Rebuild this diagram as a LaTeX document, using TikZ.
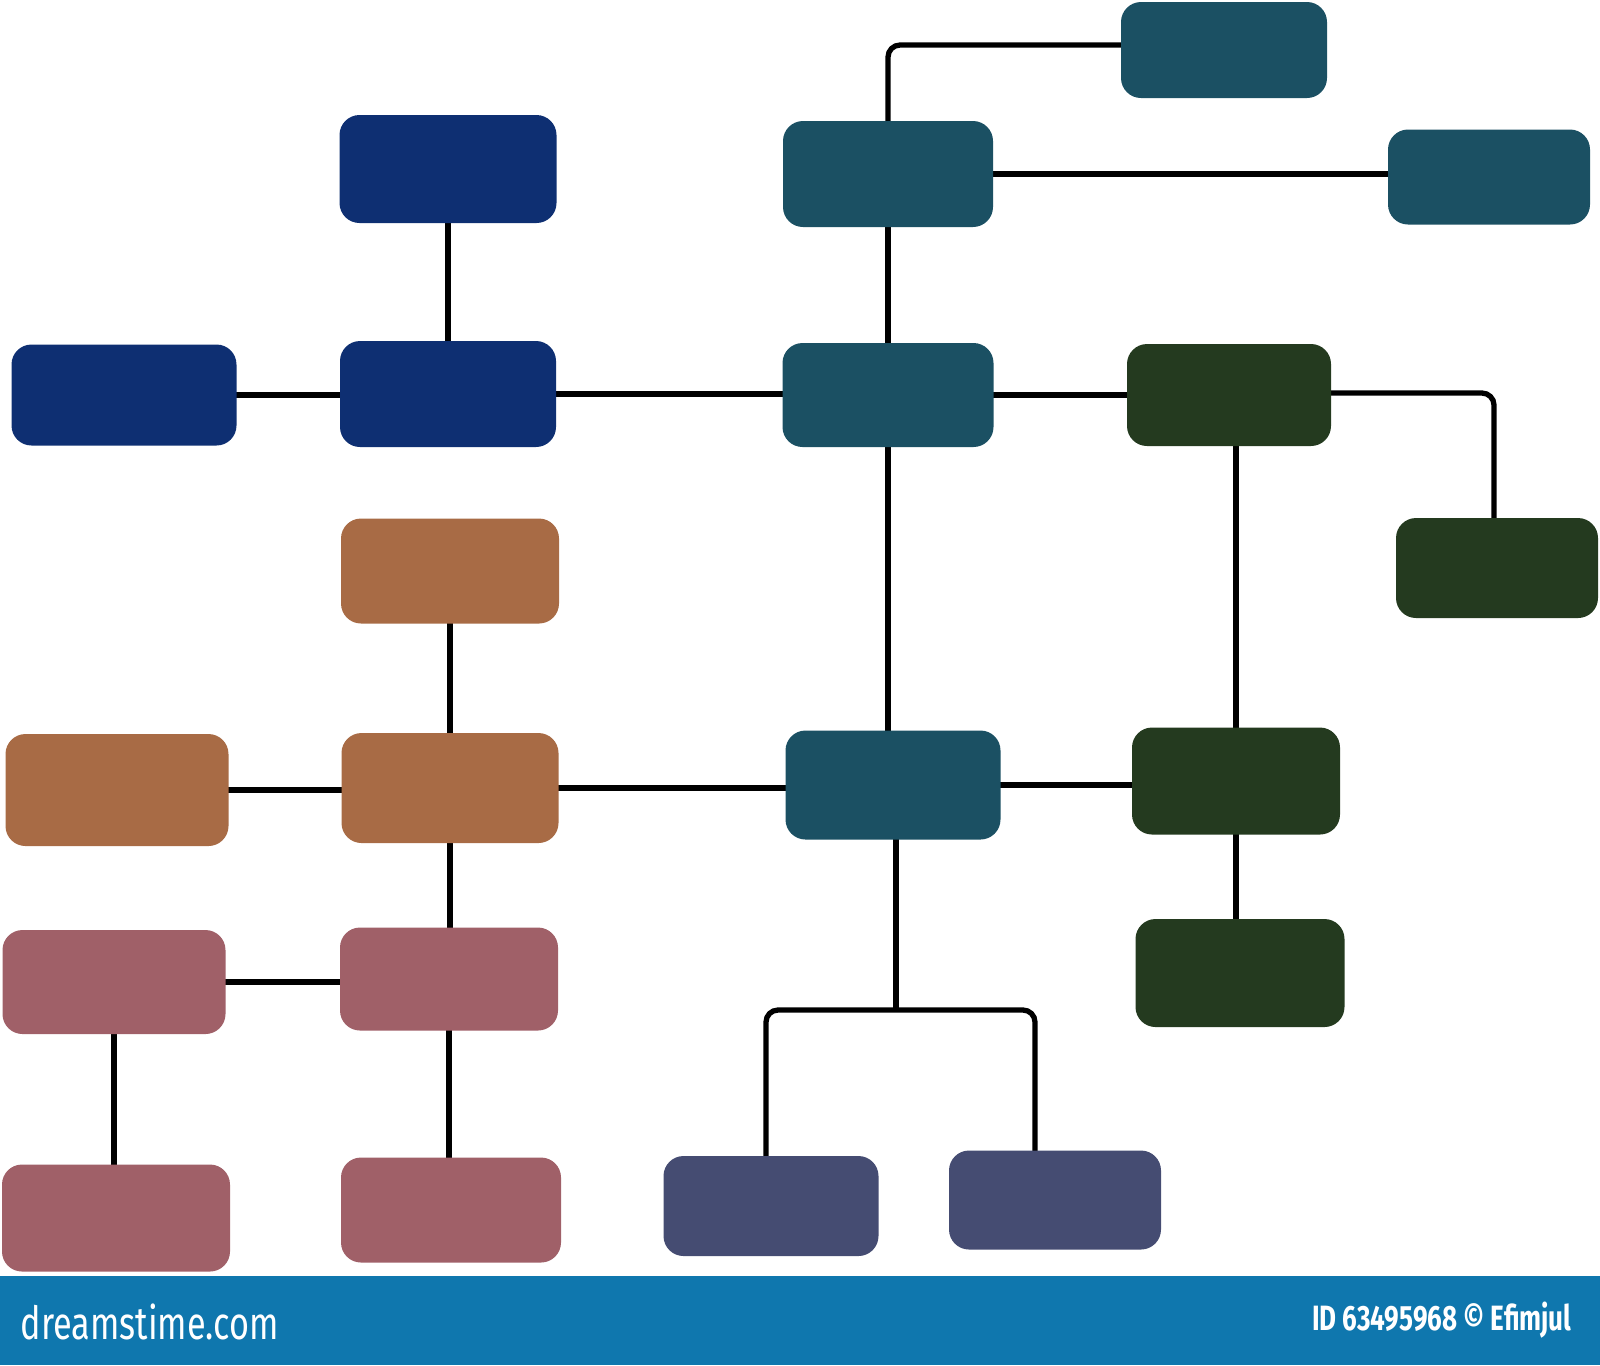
\documentclass[tikz,border=0pt]{standalone}
\usepackage{fontspec}
\setmainfont{Fira Sans}
\usetikzlibrary{backgrounds}
\definecolor{cblue}{HTML}{0E2F72}
\definecolor{cteal}{HTML}{1B5063}
\definecolor{cgreen}{HTML}{243A1F}
\definecolor{cbrown}{HTML}{A86B45}
\definecolor{cpink}{HTML}{A06068}
\definecolor{cpurple}{HTML}{454C72}
\definecolor{cfoot}{HTML}{0F77AE}
\tikzset{
  box/.style={rounded corners=0.2cm, inner sep=0pt, draw=none},
  link/.style={line width=1.5pt, black, rounded corners=0.12cm},
}
\newcommand{\bx}[6]{\node[box, fill=#2, minimum width=#5*0.01cm, minimum height=#6*0.01cm] (#1) at (#3,#4) {};}
\begin{document}
\begin{tikzpicture}[x=0.01cm, y=-0.01cm]
\useasboundingbox (0,0) rectangle (1600,1365);
% boxes
\bx{tT}{cteal}{1224}{50}{206}{96}
\bx{bT}{cblue}{448}{169}{217}{108}
\bx{tA}{cteal}{888}{174}{210}{106}
\bx{tR}{cteal}{1489}{177}{202}{95}
\bx{bL}{cblue}{124}{395}{225}{101}
\bx{bM}{cblue}{448}{394}{216}{106}
\bx{tM}{cteal}{888}{395}{211}{104}
\bx{gA}{cgreen}{1229}{395}{204}{102}
\bx{gR}{cgreen}{1497}{568}{202}{100}
\bx{rT}{cbrown}{450}{571}{218}{105}
\bx{rL}{cbrown}{117}{790}{223}{112}
\bx{rM}{cbrown}{450}{788}{217}{110}
\bx{tL}{cteal}{893}{785}{215}{109}
\bx{gB}{cgreen}{1236}{781}{208}{107}
\bx{gC}{cgreen}{1240}{973}{209}{108}
\bx{pL}{cpink}{114}{982}{223}{104}
\bx{pM}{cpink}{449}{979}{218}{103}
\bx{pBL}{cpink}{116}{1218}{228}{107}
\bx{pBM}{cpink}{451}{1210}{220}{105}
\bx{uL}{cpurple}{771}{1206}{215}{100}
\bx{uR}{cpurple}{1055}{1200}{212}{99}
\coordinate (tc) at (888,45);
\coordinate (gc) at (1494,393);
\coordinate (jc) at (896,1010);
\coordinate (jl) at (766,1010);
\coordinate (jr) at (1035,1010);
% connectors
\begin{scope}[on background layer]
\draw[link] (tT.center |- tc) -- (tc) -- (tc |- tA.center);
\draw[link] (tA.center) -- (tA.center -| tR.center);
\draw[link] (tA.center) -- (tA.center |- tM.center);
\draw[link] (bT.center) -- (bT.center |- bM.center);
\draw[link] (bL.center) -- (bL.center -| bM.center);
\draw[link] (bM.center) -- (bM.center -| tM.center);
\draw[link] (tM.center) -- (tM.center -| gA.center);
\draw[link] (gA.center |- gc) -- (gc) -- (gc |- gR.center);
\draw[link] (tM.center) -- (tM.center |- tL.center);
\draw[link] (gB.center) -- (gB.center |- gA.center);
\draw[link] (gB.center) -- (gB.center |- gC.center);
\draw[link] (rT.center) -- (rT.center |- rM.center);
\draw[link] (rL.center) -- (rL.center -| rM.center);
\draw[link] (rM.center) -- (rM.center -| tL.center);
\draw[link] (tL.center) -- (tL.center -| gB.center);
\draw[link] (rM.center) -- (rM.center |- pM.center);
\draw[link] (pL.center) -- (pL.center -| pM.center);
\draw[link] (pL.center) -- (pL.center |- pBL.center);
\draw[link] (pM.center) -- (pM.center |- pBM.center);
\draw[link] (jc |- tL.center) -- (jc);
\draw[link] (jl |- uL.center) -- (jl) -- (jr) -- (jr |- uR.center);
\end{scope}
% footer
\fill[cfoot] (0,1276) rectangle (1600,1365);
\node[anchor=west, text=white, inner sep=0pt, font=\fontsize{13}{14}\selectfont, xscale=0.75] (brand) at (20,1322) {dreamstime.com};
\node[anchor=east, text=white, inner sep=0pt, font=\bfseries\fontsize{10}{12}\selectfont, xscale=0.74] (credit) at (1572,1320) {ID 63495968 © Efimjul};
\end{tikzpicture}
\end{document}
